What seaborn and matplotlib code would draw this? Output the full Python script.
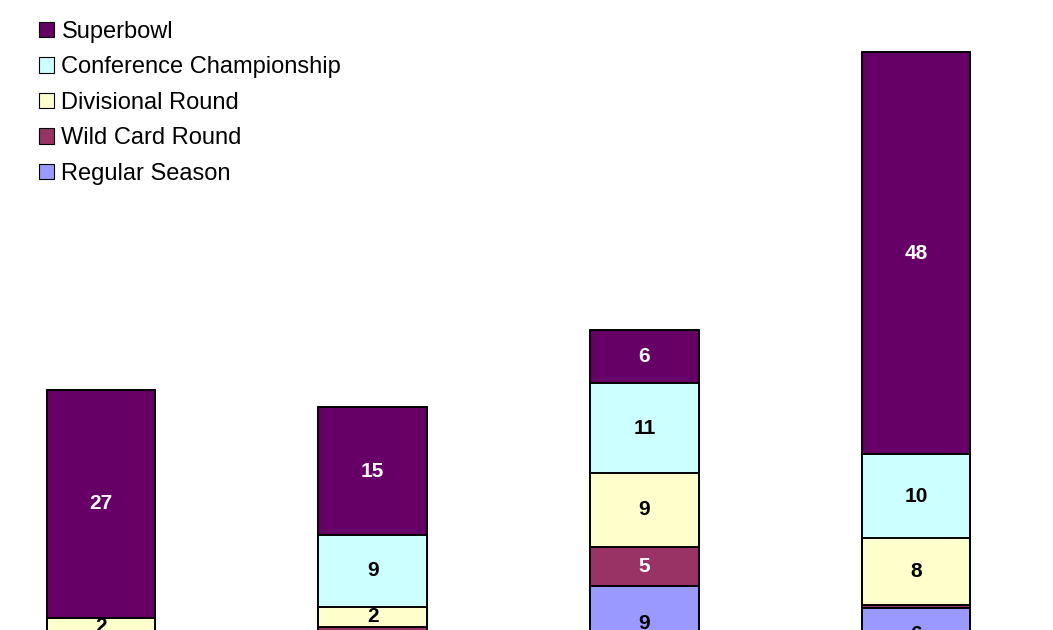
import matplotlib.pyplot as plt
from matplotlib.patches import Patch
import seaborn as sns
import numpy as np
import pandas as pd

# stacked from the bottom up; the bottom of the chart is cut off in the original
categories = ["Group 1", "Group 2", "Group 3", "Group 4"]
regular_season = [3.2, 1.1, 9.0, 6.4]
wild_card = [0.0, 3.0, 4.7, 0.3]
divisional = [2.0, 2.4, 8.8, 8.0]
conference = [0.0, 8.6, 10.7, 10.0]
superbowl = [27.2, 15.2, 6.3, 48.0]

series_names = ["Regular Season", "Wild Card Round", "Divisional Round",
                "Conference Championship", "Superbowl"]
series_colors = ["#9999FF", "#993366", "#FFFFCC", "#CCFFFF", "#660066"]
label_colors = ["black", "white", "black", "black", "white"]

df = pd.DataFrame({
    "category": categories,
    "Regular Season": regular_season,
    "Wild Card Round": wild_card,
    "Divisional Round": divisional,
    "Conference Championship": conference,
    "Superbowl": superbowl,
})
cum = df[series_names].cumsum(axis=1)

sns.set_style("white")
plt.rcParams["font.family"] = ["Liberation Sans", "DejaVu Sans"]

fig = plt.figure(figsize=(10.53, 6.30), dpi=100)
# the plot area runs past the bottom edge of the picture
ax = fig.add_axes([0, -0.0498, 1, 1.0498])

# draw tallest cumulative first, then cover with the lower ones
for name, color in zip(series_names[::-1], series_colors[::-1]):
    sns.barplot(x=df["category"], y=cum[name], color=color, width=0.4,
                edgecolor="black", linewidth=1.4, errorbar=None,
                saturation=1, ax=ax)

# value labels in the middle of each segment
for i in range(len(categories)):
    bottom = 0
    for name, tc in zip(series_names, label_colors):
        val = df[name][i]
        if val >= 1:
            ax.text(i, bottom + val / 2, f"{val:.0f}", ha="center", va="center",
                    color=tc, fontsize=15, fontweight="bold")
        bottom += val

ax.set_xlim(-0.372, 3.504)
ax.set_ylim(0, 78.93)
ax.set_xlabel("")
ax.set_ylabel("")
ax.set_xticks([])
ax.set_yticks([])
for spine in ax.spines.values():
    spine.set_visible(False)

handles = [Patch(facecolor=c, edgecolor="black", linewidth=0.8, label=n)
           for n, c in zip(series_names[::-1], series_colors[::-1])]
fig.legend(handles=handles, loc="upper left", bbox_to_anchor=(0.037, 0.967),
           frameon=False, fontsize=17, handlelength=0.62, handleheight=0.62,
           handletextpad=0.33, labelspacing=0.57, borderaxespad=0, borderpad=0,
           labelcolor="black")

fig.savefig("out.png", dpi=100, facecolor="white")
plt.close(fig)
